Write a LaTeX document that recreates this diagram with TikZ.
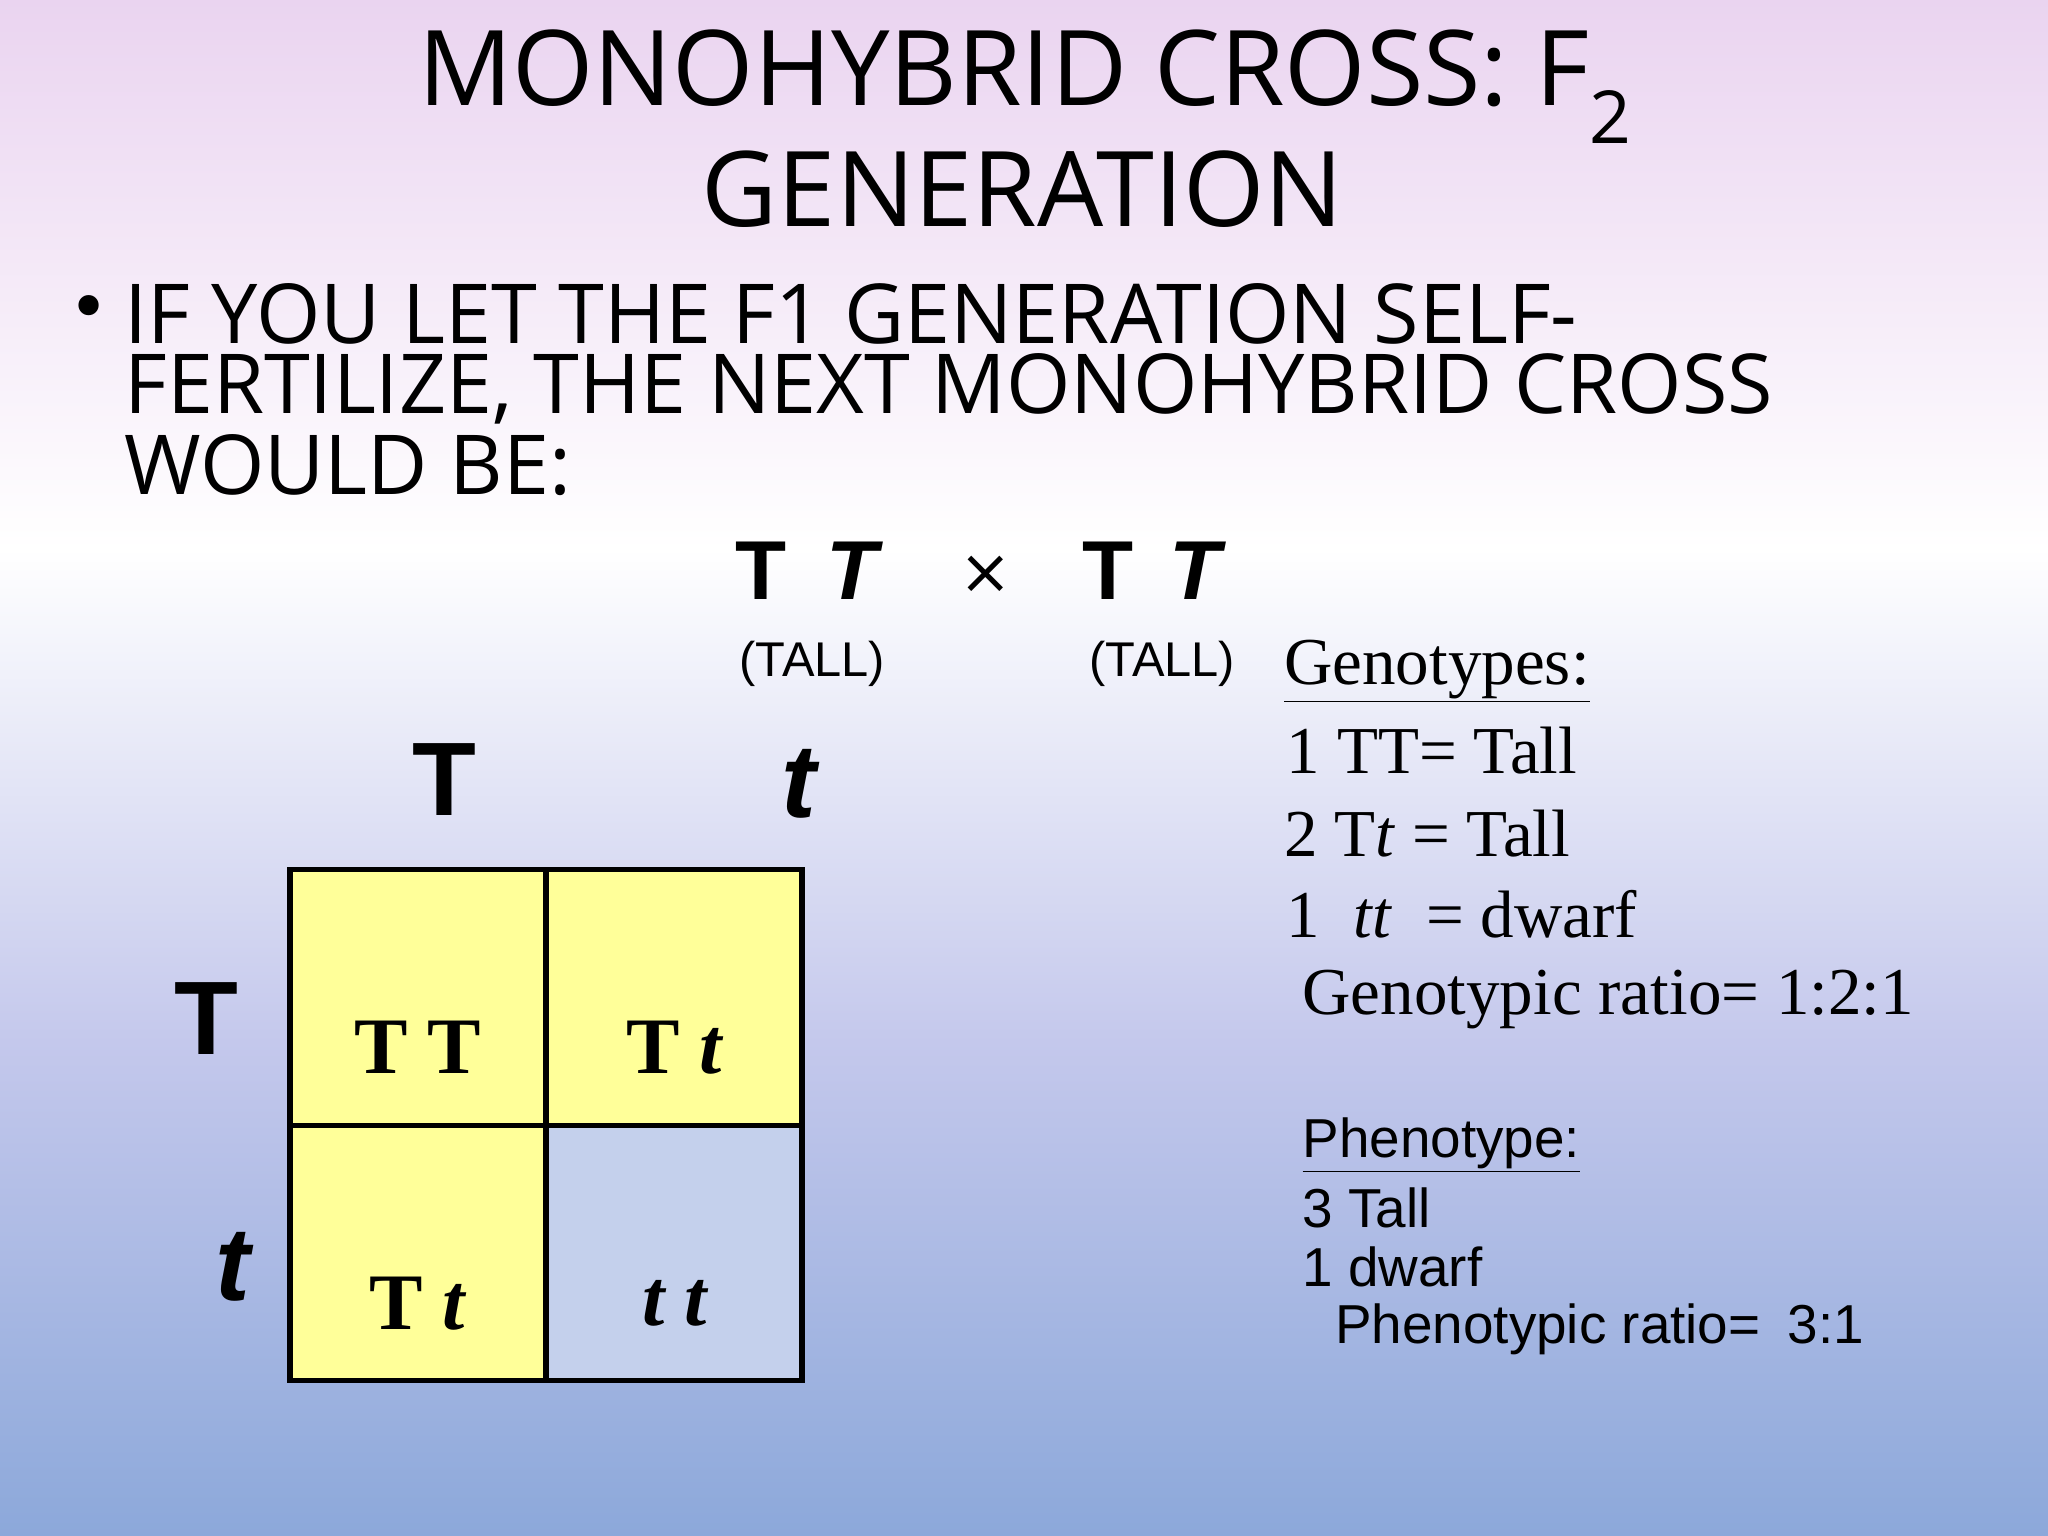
\documentclass[tikz,border=0pt]{standalone}
\usepackage{fontspec}
\setmainfont{Liberation Serif}
\newfontfamily\ttl{Open Sans}
\newfontfamily\asf{Liberation Sans}
\newfontfamily\dsf{DejaVu Sans}
\definecolor{pinktop}{RGB}{234,212,240}
\definecolor{bluebot}{RGB}{140,168,218}
\definecolor{bluemid}{RGB}{196,200,236}
\definecolor{cellblue}{RGB}{196,208,236}
\definecolor{cellyel}{RGB}{255,255,153}
\begin{document}
\begin{tikzpicture}[x=0.75pt,y=-0.75pt,
  tl/.style={font=\ttl\fontsize{60}{60}\selectfont,inner sep=0},
  bl/.style={font=\ttl\fontsize{47.5}{47.5}\selectfont,inner sep=0,anchor=west},
  big/.style={font=\asf\fontsize{60}{60}\selectfont\bfseries,inner sep=0},
  cross/.style={font=\asf\fontsize{48}{48}\selectfont\bfseries,inner sep=0},
  tall/.style={font=\asf\fontsize{28}{28}\selectfont,inner sep=0},
  cell/.style={font=\fontsize{46}{46}\selectfont\bfseries,inner sep=0},
  gt/.style={font=\fontsize{38.5}{38.5}\selectfont,inner sep=0,anchor=west},
  pt/.style={font=\asf\fontsize{31.5}{31.5}\selectfont,inner sep=0,anchor=west}]
\useasboundingbox (0,0) rectangle (1568,1176);
\shade[top color=pinktop,bottom color=white] (0,0) rectangle (1568,421);
\shade[top color=white,bottom color=bluebot,middle color=bluemid] (0,420) rectangle (1568,1176);
\node[tl] (t1) at (785,66) {MONOHYBRID CROSS: F\textsubscript{2}};
\node[tl] (t2) at (783,145) {GENERATION};
\node[bl,font=\dsf\fontsize{40}{40}\selectfont] (b0) at (52,240) {•};
\node[bl] (b1) at (95,240) {IF YOU LET THE F1 GENERATION SELF-};
\node[bl] (b2) at (95,298) {FERTILIZE, THE NEXT MONOHYBRID CROSS};
\node[bl] (b3) at (95,356) {WOULD BE:};
\node[cross] (c1) at (583,437) {T};
\node[cross] (c2) at (652,437) {\itshape T};
\node[font=\dsf\fontsize{36}{36}\selectfont,inner sep=0] (cx) at (755,440) {×};
\node[cross] (c3) at (848,437) {T};
\node[cross] (c4) at (915,437) {\itshape T};
\node[tall] (ta1) at (622,508) {(TALL)};
\node[tall] (ta2) at (890,508) {(TALL)};
\fill[cellyel] (222,666) rectangle (614,1057);
\fill[cellblue] (418,862) rectangle (614,1057);
\draw[line width=3pt] (222,666) rectangle (614,1057) (418,666) -- (418,1057) (222,862) -- (614,862);
\node[big] (lt1) at (340,597) {T};
\node[big] (lt2) at (612,600) {\itshape t};
\node[big] (ll1) at (158,780) {T};
\node[big] (ll2) at (178,970) {\itshape t};
\node[cell] (k1) at (320,802) {T T};
\node[cell] (k2) at (517,802) {T \textit{t}};
\node[cell] (k3) at (320,998) {T \textit{t}};
\node[cell] (k4) at (517,998) {\textit{t t}};
\node[gt] (g0) at (983,514) {\underline{Genotypes:}};
\node[gt] (g1) at (985,575) {1 TT= Tall};
\node[gt] (g2) at (983,638) {2 T\textit{t} = Tall};
\node[gt] (g3) at (985,700) {1\enspace \textit{tt}\enspace = dwarf};
\node[gt] (g4) at (997,765) {Genotypic ratio= 1:2:1};
\node[pt] (p0) at (997,877) {\underline{Phenotype:}};
\node[pt] (p1) at (997,925) {3 Tall};
\node[pt] (p2) at (997,970) {1 dwarf};
\node[pt] (p3) at (1022,1018) {Phenotypic ratio=\enspace 3:1};
\end{tikzpicture}
\end{document}
